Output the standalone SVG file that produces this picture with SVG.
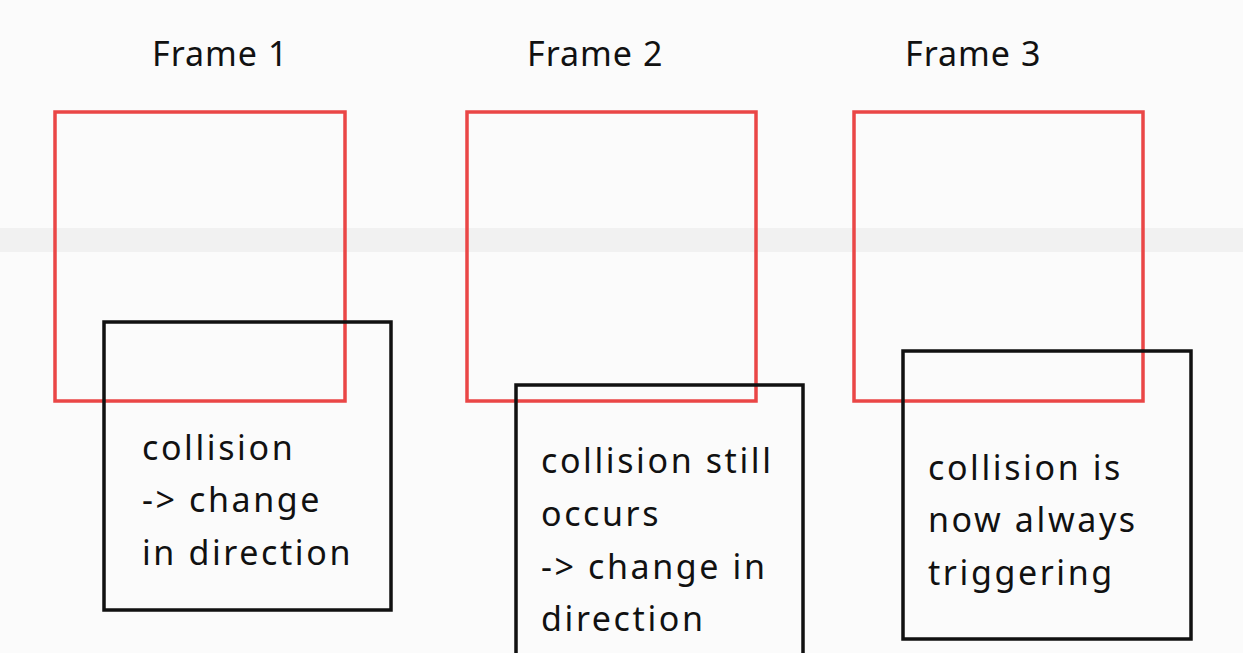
<svg xmlns="http://www.w3.org/2000/svg" width="1243" height="653" viewBox="0 0 1243 653">
<style>
.t{font-family:"Noto Sans","DejaVu Sans",sans-serif;font-size:34px;fill:#111;letter-spacing:1px}
.s{letter-spacing:2.6px}
.r{fill:none;stroke:#ea4646;stroke-width:3.5}
.b{fill:none;stroke:#111;stroke-width:3.5}
</style>
<rect width="1243" height="653" fill="#fbfbfb"/>
<rect x="0" y="228" width="1243" height="24" fill="#f1f1f1"/>
<g id="titles">
<text class="t" x="152" y="66">Frame 1</text>
<text class="t" x="527" y="66">Frame 2</text>
<text class="t" x="905" y="66">Frame 3</text>
</g>
<g id="frame1"><rect class="r" x="55" y="112" width="290" height="289"/></g>
<g id="frame2"><rect class="r" x="467" y="112" width="289" height="289"/></g>
<g id="frame3"><rect class="r" x="854" y="112" width="289" height="289"/></g>
<g id="box1"><rect class="b" x="104" y="322" width="287" height="288"/>
<text class="t s" x="142" y="460">collision</text>
<text class="t s" x="142" y="512">-&gt; change</text>
<text class="t s" x="142" y="565">in direction</text></g>
<g id="box2"><rect class="b" x="516" y="385" width="287" height="280"/>
<text class="t s" x="541" y="473">collision still</text>
<text class="t s" x="541" y="526">occurs</text>
<text class="t s" x="541" y="579">-&gt; change in</text>
<text class="t s" x="541" y="631">direction</text></g>
<g id="box3"><rect class="b" x="903" y="351" width="288" height="288"/>
<text class="t s" x="928" y="480">collision is</text>
<text class="t s" x="928" y="532">now always</text>
<text class="t s" x="928" y="585">triggering</text></g>
<g id="connectors"/>
</svg>
